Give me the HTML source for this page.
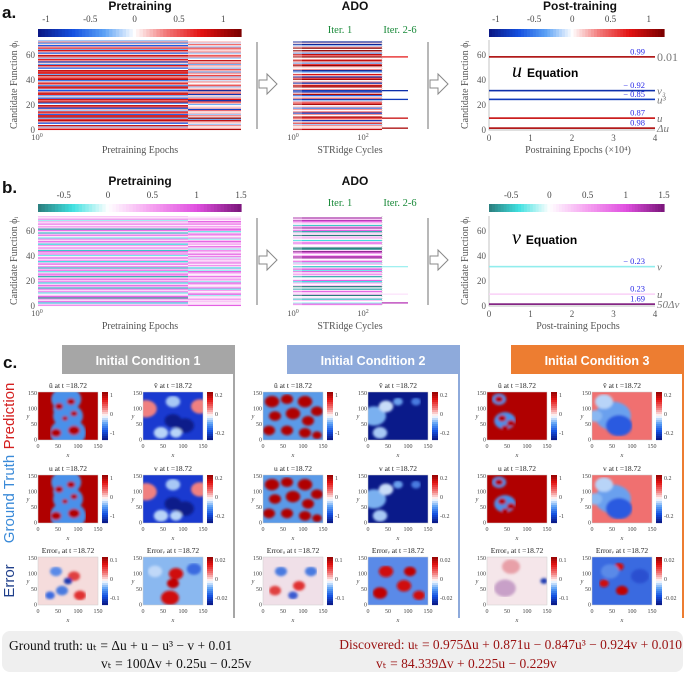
<!DOCTYPE html>
<html><head><meta charset="utf-8"><style>
body{margin:0;background:#fff;width:685px;height:672px;overflow:hidden}
svg text{font-family:"Liberation Serif",serif}
.sans{font-family:"Liberation Sans",sans-serif !important}
</style></head><body>
<svg id="fig" width="685" height="672" viewBox="0 0 685 672" xmlns="http://www.w3.org/2000/svg">
<defs>
<filter id="blur" x="0" y="0" width="1" height="1"><feGaussianBlur stdDeviation="1.3"/></filter>
<clipPath id="hmclip"><rect x="0" y="0" width="60" height="48"/></clipPath>
</defs>
<g id="root"></g>
</svg>
<script>
// ---- data ----
const nPhi = 72;
const preU=[0.8,0.3,-0.2,0.9,0,-0.7,0.2,0.9,0.6,-0.3,0.9,0.7,-0.6,0.4,0.8,-0.2,0.2,-0.8,0.5,0.9,0,-0.5,0.9,0.4,0.8,-0.6,0.1,-0.3,0.7,0.9,0.2,-0.7,-0.2,0.6,0.9,-0.4,0.3,0.8,0.1,-0.5,0.9,0.7,0.2,0.9,-0.3,0.8,0.6,0.9,0,-0.6,0.2,0.8,-0.4,0.1,-0.9,0.3,0.7,-0.2,0.4,0.9,0.1,-0.6,0.2,0.8,-0.3,0.6,0.2,-0.7,0.1,-0.4,0.3,-0.2];
const lateU=[1,0.2,0,0.3,-0.2,0.1,0.2,0.9,-0.3,1.1,0.1,0.3,-0.2,0.2,0,0.4,-0.8,0.2,0.1,0,-0.3,0.2,0.6,-0.9,0.8,0.3,-0.2,0.1,-0.9,0.4,0.2,-1,0.3,0.1,-0.2,0.5,0.2,0,0.3,-0.1,0.4,0.2,-0.2,0.6,0.1,0.3,-0.3,0.2,0.5,-0.2,0.1,0.2,-0.3,0.4,0.1,0.9,0,-0.2,0.3,0.5,0.1,-0.2,0.3,0.1,0.2,0.5,-0.2,0.1,0.4,-0.1,0.2,0];
const adoU=[0.9,0.2,0,0.3,-0.2,0.8,0,-0.9,0.2,0.6,1,0,0.3,-0.8,0.5,0,0.3,-0.5,0.2,0,1,0.6,0.3,-0.2,-0.9,0.4,0,-0.6,1,0.2,-0.8,-0.9,0.3,0,1,0.9,0.2,-0.9,0.3,0,1,0.6,-0.9,0.2,0.8,0,-0.4,-1,0.3,0,0.2,1.1,0.6,-0.3,0.2,0.9,0.3,0,1.1,0.4,0.9,-0.3,0.2,1.1,0,1.1,0.2,-0.2,-1,0.1,-1,0];
const adoSurviveU=[1,9,24,31,58];
const adoSurviveUCoef=[1.0,0.87,-0.85,-0.92,0.7];
const preV=[0.6,0.3,-0.4,0.8,0.2,0.5,-0.7,0.9,0.3,0.1,-0.3,0.6,0.2,0.7,-0.5,0.4,0.8,0.2,-0.4,0.6,0.3,0.9,0.1,-0.6,0.5,0.8,0.2,-0.3,0.7,0.4,-0.5,0.6,0.1,0.8,0.3,-0.4,0.5,0.2,0.9,0.1,-0.3,0.6,0.4,0.8,-0.5,0.2,0.7,0.1,0.5,-0.4,0.3,0.8,0.2,0.6,-0.3,0.1,0.7,0.4,-0.5,0.2,0.8,-0.6,0.3,0.5,0.1,0.7,0.2,0.4,-0.2,0.6,0.1,0.3];
const lateV=[0.9,0.2,0.1,0.3,0.2,0.6,0.1,0.2,-0.2,0.9,0.3,0.1,0.5,-0.3,0.8,0.2,0.1,0.4,0.9,-0.2,0.3,0.6,0.1,0.8,0.2,0.1,0.5,0.9,-0.2,0.3,-0.4,0.2,0.6,0.1,0.8,0.3,0.2,0.5,-0.1,0.7,0.2,0.9,0.1,0.4,0.6,-0.2,0.3,0.8,0.1,0.5,0.2,0.9,0.3,-0.2,0.6,0.1,0.4,0.8,0.2,-0.3,0.6,1.0,0.2,0.5,0.1,0.7,0.3,0.9,0.1,0.4,0.2,0.1];
const adoV=[0.1,0.9,-0.2,0,0.3,-0.5,0.2,0,-0.8,0.4,0,0.9,0.2,-0.6,0,-0.9,0.3,0,0.5,-0.4,0.9,0.1,0,-0.6,0.2,0.7,0,0.9,-0.3,1.0,0.2,-0.5,0,0.4,-0.2,0.9,0.3,0,1.3,1.2,0.4,0,0.9,1.4,0.2,-0.7,-0.8,0.1,0,0.3,1.0,0.2,-0.4,0,0.5,0.2,-0.8,0.1,0.3,-0.6,0.9,0.2,1.3,0.4,-0.5,0.1,0.3,0.8,1.2,0.2,1.3,0];
const adoSurviveV=[2,9,31];
const adoSurviveVCoef=[1.2,0.15,-0.2];
const postTermsU=[1,9,24,31,58];
const postCoefU=[0.98,0.87,-0.85,-0.92,0.99];
const postCoefUTxt=["0.98","0.87","\u2212 0.85","\u2212 0.92","0.99"];
const postNamesU=["\u0394u","u","u\u00b3","v\u2083","0.01"];
const postTermsV=[1,9,31];
const postCoefV=[1.69,0.23,-0.23];
const postCoefVTxt=["1.69","0.23","\u2212 0.23"];
const postNamesV=["50\u0394v","u","v"];
const cbTicksU=[-1,-0.5,0,0.5,1];
const cbTicksV=[-0.5,0,0.5,1,1.5];
const yTicks=[0,20,40,60];
const postXTicks=[0,1,2,3,4];

const NS="http://www.w3.org/2000/svg";
const root=document.getElementById('root');
function el(tag,attrs,parent){const e=document.createElementNS(NS,tag);for(const k in attrs)e.setAttribute(k,attrs[k]);(parent||root).appendChild(e);return e;}
function txt(s,x,y,size,attrs,parent){const t=el('text',Object.assign({x:x,y:y,'font-size':size},attrs||{}),parent);t.textContent=s;return t;}
function hex(c){return [parseInt(c.slice(1,3),16),parseInt(c.slice(3,5),16),parseInt(c.slice(5,7),16)];}
function mk(stops){return function(v){if(v<=stops[0][0])return stops[0][1];for(let i=1;i<stops.length;i++){if(v<=stops[i][0]){const a=stops[i-1],b=stops[i];const f=(v-a[0])/(b[0]-a[0]);const c1=hex(a[1]),c2=hex(b[1]);return 'rgb('+c1.map((c,j)=>Math.round(c+(c2[j]-c)*f)).join(',')+')';}}return stops[stops.length-1][1];};}
const cmapU=mk([[-1.1,'#0a1580'],[-0.7,'#1450e0'],[-0.35,'#5aa0f5'],[0,'#ffffff'],[0.35,'#f27a7a'],[0.75,'#e31212'],[1.2,'#7a0000']]);
const cmapV=mk([[-0.8,'#2a7a7a'],[-0.4,'#40e0e0'],[0,'#ffffff'],[0.5,'#f5a0f0'],[1.0,'#e050e0'],[1.5,'#7a157a']]);

function colorbar(x0,x1,y0,y1,vmin,vmax,cmap,ticks,name,labelY){
  const g=el('g',{});
  
  
  const n=60,w=(x1-x0)/n;
  for(let i=0;i<n;i++){const v=vmin+(vmax-vmin)*(i+0.5)/n;const r=el('rect',{x:x0+i*w,y:y0,width:w+0.6,height:y1-y0,fill:cmap(v)},g);
    
    }
  ticks.forEach(t=>{const x=x0+(t-vmin)/(vmax-vmin)*(x1-x0);const tt=txt(String(t),x,labelY,9,{'text-anchor':'middle',fill:'#444'},g);
    
    });
}
function yAxis(x,y0phi,scale,name){
  yTicks.forEach(t=>{const tt=txt(String(t),x-3,y0phi-t*scale+3,9,{'text-anchor':'end',fill:'#555'});
    
    });
}
function rowY(phi,base){return base-(phi+1)*1.25;}
function stripes(arrA,arrB,x0,xm,x1,base,cmap,name){
  const g=el('g',{});
  
  
  for(let i=0;i<nPhi;i++){
    const y=rowY(i,base);
    const a=el('rect',{x:x0,y:y,width:xm-x0,height:1.3,fill:cmap(arrA[i])},g);
    
    
    const b=el('rect',{x:xm,y:y,width:x1-xm,height:1.3,fill:cmap(arrB[i])},g);
    
    
  }
}
function adoBlock(arr,surv,survC,x0,x1,xe,base,cmap,name){
  const g=el('g',{});
  
  
  for(let i=0;i<nPhi;i++){const r=el('rect',{x:x0,y:rowY(i,base),width:x1-x0,height:1.3,fill:cmap(arr[i])},g);
    
    }
  const ov=el('rect',{x:x0,y:base-90,width:9,height:90,fill:'#fff',opacity:0.25},g);
  
  
  const ln=el('line',{x1:x1,x2:x1,y1:base-90,y2:base,stroke:'#bbb','stroke-width':0.6,'stroke-dasharray':'1,1'},g);
  
  
  surv.forEach((p,k)=>{const r=el('rect',{x:x1,y:rowY(p,base),width:xe-x1,height:1.3,fill:cmap(survC[k])},g);
    
    });
}
function postPlot(terms,coefs,coefTxt,names,x0,x1,base,cmap,name){
  const g=el('g',{});
  
  
  const ax=el('path',{d:`M${x0},${base-90}V${base}H${x1}`,fill:'none',stroke:'#aaa','stroke-width':0.7},g);
  
  
  terms.forEach((p,k)=>{const y=base-(p+0.5)*1.25;
    const l=el('rect',{x:x0,y:y-0.8,width:x1-x0,height:1.6,fill:cmap(coefs[k])},g);
    
    
    const c=txt(coefTxt[k],x1-10,y-2.5,8.5,{'text-anchor':'end',fill:'#2a2ae8'},g);
    
    
    const nm=txt(names[k],x1+2,y+4,names[k]==='0.01'?12:11,{fill:'#777','font-style':names[k]==='0.01'?'normal':'italic'},g);
    
    });
  postXTicks.forEach(t=>{const x=x0+t*(x1-x0)/4;const tt=txt(String(t),x,base+11,9,{'text-anchor':'middle',fill:'#555'},g);
    
    });
}

function panel(base,cbY,lblY,titleY,itY,cmap,vmin,vmax,ticks,pre,late,ado,surv,survC,pt,pc,pct,pn,tag,xl3,eqName,eqY){
  colorbar(38,241,cbY,cbY+8,vmin,vmax,cmap,ticks,tag+'-pretrain-colorbar',lblY);
  colorbar(489,664,cbY,cbY+8,vmin,vmax,cmap,ticks,tag+'-post-colorbar',lblY);
  stripes(pre,late,38,188,241,base,cmap,tag+'-pretrain-heatmap');
  adoBlock(ado,surv,survC,293,382,408,base,cmap,tag+'-ado-heatmap');
  postPlot(pt,pc,pct,pn,489,655,base,cmap,tag+'-post-plot');
  yAxis(38,base,1.25,'y-tick-label');yAxis(489,base,1.25,'y-tick-label');
  [[140,'Pretraining'],[355,'ADO'],[580,'Post-training']].forEach(a=>{if(tag==='b'&&a[0]===580)return;const t=txt(a[1],a[0],titleY,12,{'text-anchor':'middle','font-weight':'bold',class:'sans',fill:'#111'});
    
    });
  const i1=txt('Iter. 1',340,itY,10.5,{'text-anchor':'middle',fill:'#1a8a3a'});
  
  
  const i2=txt('Iter. 2-6',400,itY,10.5,{'text-anchor':'middle',fill:'#1a8a3a'});
  
  
  [[37,'10'],[293,'10'],[363,'10']].forEach((a,k)=>{const t=txt(a[1],a[0],base+10,8.5,{'text-anchor':'middle',fill:'#555'});
    const s=el('tspan',{dy:-3,'font-size':6},t);s.textContent=k===2?'2':'0';
    
    });
  [[140,'Pretraining Epochs'],[350,'STRidge Cycles'],[578,xl3]].forEach(a=>{const t=txt(a[1],a[0],base+23,10,{'text-anchor':'middle',fill:'#555'});
    
    });
  [17,468].forEach(x=>{const t=txt('Candidate Function \u03d5\u1d62',0,0,10,{'text-anchor':'middle',fill:'#555',transform:`translate(${x},${base-45}) rotate(-90)`});
    
    });
  [257,428].forEach(x=>{const l=el('line',{x1:x,x2:x,y1:base-88,y2:base-1,stroke:'#888','stroke-width':1.2});
    
    
    const a=el('path',{d:`M${x+2},${base-50}h8v-6l10,10l-10,10v-6h-8z`,fill:'#fff',stroke:'#888','stroke-width':1});
    
    });
  const eq=el('text',{x:512,y:eqY,'font-size':12});
  
  
  const s1=el('tspan',{'font-size':20,'font-style':'italic'},eq);s1.textContent=eqName;
  const s2=el('tspan',{dx:5,'font-weight':'bold',class:'sans','font-family':'Liberation Sans'},eq);s2.textContent='Equation';
}
panel(130,29,22,10,33,cmapU,-1.09,1.2,cbTicksU,preU,lateU,adoU,adoSurviveU,adoSurviveUCoef,postTermsU,postCoefU,postCoefUTxt,postNamesU,'a','Postraining Epochs (\u00d710\u2074)','u',77);
panel(306,204,198,185,206,cmapV,-0.79,1.5,cbTicksV,preV,lateV,adoV,adoSurviveV,adoSurviveVCoef,postTermsV,postCoefV,postCoefVTxt,postNamesV,'b','Post-training Epochs','v',244);
[['a.',2,18],['b.',2,193],['c.',3,368]].forEach(a=>{const t=txt(a[0],a[1],a[2],17,{'font-weight':'bold',class:'sans',fill:'#111'});
  
  });

// ---- panel c ----
const icOffsets=[0,225,449];
const icNames=['Initial Condition 1','Initial Condition 2','Initial Condition 3'];
const icColors=['#a6a6a6','#8eaadb','#ed7d31'];
const rowTops=[392,475,557];
const rowLabels=['Prediction','Ground Truth','Error'];
const rowColors=['#d42020','#3a8ad8','#1f3f8a'];
const cRed='#b00000',cBlue='#1464e0',cNavy='#0a1a8a',cLight='#4a90ea';
const fields={
 u1:['#b00000',[[0.5,0.5,0.25,cLight],[0.47,0.15,0.25,cLight],[0.5,0.85,0.3,cLight],[0.45,0.35,0.2,cLight],[0.35,0.3,0.07,cRed],[0.55,0.2,0.07,cRed],[0.6,0.45,0.06,cRed],[0.3,0.85,0.09,cRed],[0.6,0.8,0.1,cRed],[0.45,0.55,0.05,cRed]]],
 v1:['#1a3ad0',[[0.05,0.35,0.18,'#f08080'],[0.95,0.3,0.15,'#f08080'],[0.5,0.2,0.12,'#a8c8f5'],[0.5,0.6,0.14,cNavy],[0.7,0.7,0.15,cNavy],[0.3,0.85,0.12,'#b8d4f8'],[0.55,0.85,0.1,'#b8d4f8']]],
 u2:['#5a9ae8',[[0.15,0.2,0.12,cRed],[0.4,0.15,0.1,cRed],[0.7,0.2,0.12,cRed],[0.9,0.4,0.1,cRed],[0.2,0.5,0.1,cRed],[0.5,0.45,0.12,cRed],[0.75,0.6,0.1,cRed],[0.1,0.8,0.1,cRed],[0.4,0.8,0.1,cRed],[0.7,0.85,0.1,cRed],[0.9,0.9,0.08,cRed]]],
 v2:['#0a1a8a',[[0.1,0.5,0.2,'#7ab0f0'],[0.3,0.3,0.12,'#c8dcf8'],[0.2,0.85,0.12,'#a8c8f5'],[0.5,0.2,0.08,'#6aa0ee'],[0.8,0.2,0.08,'#4a7ae0']]],
 u3:['#b00000',[[0.2,0.15,0.12,cLight],[0.2,0.15,0.07,cRed],[0.3,0.6,0.18,cLight],[0.25,0.55,0.07,cRed],[0.4,0.65,0.07,cRed],[0.3,0.75,0.06,cRed]]],
 v3:['#f07070',[[0.35,0.5,0.3,'#6aa0ee'],[0.45,0.7,0.22,'#2a5ae0'],[0.2,0.2,0.15,'#b8d4f8'],[0.05,0.5,0.12,'#8ab8f2']]],
 eu1:['#f5dcdc',[[0.3,0.3,0.1,'#5a8ae8'],[0.6,0.4,0.1,'#e04040'],[0.4,0.7,0.1,'#4a7ae0'],[0.7,0.8,0.1,'#e03030'],[0.2,0.8,0.08,'#3a6ae0'],[0.5,0.5,0.07,'#1a3ab0']]],
 ev1:['#8ab8f0',[[0.55,0.35,0.12,'#d01010'],[0.5,0.55,0.1,'#c00000'],[0.45,0.85,0.15,'#d01010'],[0.2,0.3,0.12,'#c0d8f8'],[0.85,0.25,0.12,'#3a6ae0']]],
 eu2:['#f0e0e8',[[0.3,0.3,0.1,'#4a7ae0'],[0.6,0.6,0.1,'#e03030'],[0.2,0.7,0.1,'#e04040'],[0.8,0.3,0.1,'#4a7ae0'],[0.5,0.8,0.08,'#3a5ad0']]],
 ev2:['#5a8ae8',[[0.3,0.3,0.12,'#d01010'],[0.7,0.3,0.1,'#c00000'],[0.6,0.6,0.12,'#d01010'],[0.2,0.75,0.12,'#c00000'],[0.85,0.8,0.1,'#d01010']]],
 eu3:['#f5e6ea',[[0.4,0.2,0.15,'#e8a0a8'],[0.3,0.65,0.18,'#c8a0c8'],[0.95,0.5,0.06,'#1a3ab0']]],
 ev3:['#3a6ae0',[[0.45,0.2,0.08,'#d01010'],[0.2,0.55,0.08,'#d01010'],[0.5,0.7,0.1,'#c00000'],[0.8,0.4,0.15,'#2a50d0'],[0.3,0.3,0.15,'#5a8ae8']]]
};
const cbLabels=[['1','0','-1'],['0.2','0','-0.2']];
const cbErrLabels=[['0.1','0','-0.1'],['0.02','0','-0.02']];
const titlesRow=[['\u00fb at t =18.72','v\u0302 at t =18.72'],['u at t =18.72','v at t =18.72'],['Error\u1d64 at t =18.72','Error\u1d65 at t =18.72']];

icOffsets.forEach((ox,ic)=>{
  const h=el('rect',{x:62+ox,y:345,width:172,height:29,fill:icColors[ic]});
  
  
  const ht=txt(icNames[ic],148+ox,365,12.5,{'text-anchor':'middle',fill:'#fff','font-weight':'bold',class:'sans'});
  
  
  const vl=el('line',{x1:234+ox,x2:234+ox,y1:345,y2:618,stroke:icColors[ic],'stroke-width':2});
  
  
  rowTops.forEach((ty,r)=>{
    [0,1].forEach(c=>{
      const hx=38+ox+c*105;
      const key=(r===2?'e':'')+(c===0?'u':'v')+(ic+1);
      const f=fields[key];
      const g=el('g',{transform:`translate(${hx},${ty})`});
      
      
      const inner=el('g',{'clip-path':'url(#hmclip)'},g);
      const bg=el('rect',{x:0,y:0,width:60,height:48,fill:f[0]},inner);
      
      
      const bl=el('g',{filter:'url(#blur)'},inner);
      f[1].forEach(b=>{const e=el('ellipse',{cx:b[0]*60,cy:b[1]*48,rx:b[2]*60,ry:b[2]*48,fill:b[3]},bl);
        
        });
      const fr=el('rect',{x:0,y:0,width:60,height:48,fill:'none',stroke:'#ccc','stroke-width':0.5},g);
      
      
      const cg=el('g',{});
      
      
      for(let k=0;k<24;k++){const v=1-2*(k+0.5)/24;const s=el('rect',{x:hx+64,y:ty+k*2,width:6,height:2.1,fill:cmapU(v*1.1)},cg);
        
        }
      const labs=(r===2?cbErrLabels:cbLabels)[c];
      labs.forEach((l,k)=>{const t=txt(l,hx+72,ty+5+k*19,6,{fill:'#444'});
        
        });
      const tt=txt(titlesRow[r][c],hx+30,ty-4,7.5,{'text-anchor':'middle',fill:'#222'});
      
      
      ['150','100','50','0'].forEach((l,k)=>{const t=txt(l,hx-1,ty+3+k*15.5,6,{'text-anchor':'end',fill:'#444'});
        
        });
      ['0','50','100','150'].forEach((l,k)=>{const t=txt(l,hx+k*20,ty+56,6,{'text-anchor':'middle',fill:'#444'});
        
        });
      const xl=txt('x',hx+30,ty+65,6.5,{'text-anchor':'middle','font-style':'italic',fill:'#444'});
      
      
      const yl=txt('y',hx-10,ty+26,6.5,{'text-anchor':'middle','font-style':'italic',fill:'#444'});
      
      
    });
  });
});
rowLabels.forEach((l,r)=>{const t=txt(l,0,0,15,{'text-anchor':'middle',fill:rowColors[r],class:'sans',transform:`translate(14,${rowTops[r]+24}) rotate(-90)`});
  
  });

const bb=el('rect',{x:2,y:631,width:681,height:41,rx:8,fill:'#efefef'});


[['Ground truth: u\u209c = \u0394u + u \u2212 u\u00b3 \u2212 v + 0.01',9,650,'start','#111'],
 ['v\u209c = 100\u0394v + 0.25u \u2212 0.25v',101,668,'start','#111'],
 ['Discovered: u\u209c = 0.975\u0394u + 0.871u \u2212 0.847u\u00b3 \u2212 0.924v + 0.010',682,649,'end','#9a1010'],
 ['v\u209c = 84.339\u0394v + 0.225u \u2212 0.229v',376,668,'start','#9a1010']].forEach(a=>{
  const t=txt(a[0],a[1],a[2],13.5,{'text-anchor':a[3],fill:a[4]});
  
  });
</script>
</body></html>
